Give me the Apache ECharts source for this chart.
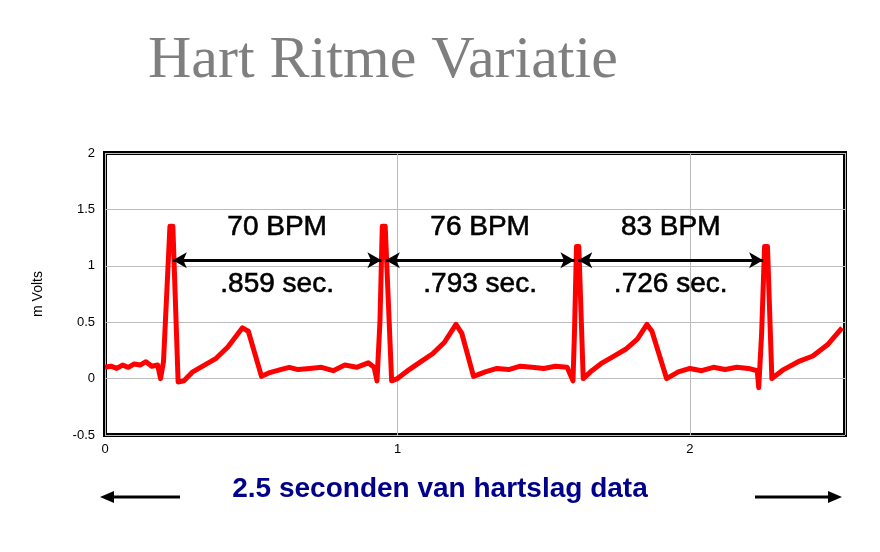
<!DOCTYPE html>
<html><head><meta charset="utf-8">
<script src="https://cdn.jsdelivr.net/npm/echarts@6/dist/echarts.min.js"></script>
<style>body{margin:0;background:#fff}#c{width:880px;height:552px}</style></head>
<body><div id="c"></div>
<script>
var times = [0,0.02,0.04,0.06,0.08,0.1,0.12,0.14,0.16,0.18,0.19,0.2,0.222,0.232,0.25,0.27,0.3,0.34,0.38,0.42,0.47,0.49,0.535,0.56,0.6,0.63,0.66,0.7,0.74,0.78,0.82,0.86,0.9,0.92,0.93,0.94,0.948,0.958,0.98,1.0,1.04,1.08,1.12,1.16,1.2,1.22,1.26,1.3,1.34,1.38,1.42,1.46,1.5,1.54,1.58,1.6,1.605,1.612,1.62,1.635,1.66,1.7,1.74,1.78,1.82,1.853,1.87,1.92,1.96,2.0,2.04,2.08,2.12,2.16,2.2,2.23,2.235,2.245,2.255,2.265,2.28,2.32,2.37,2.42,2.47,2.52];
var mvolts = [0.1,0.11,0.09,0.12,0.1,0.13,0.12,0.15,0.11,0.12,0.0,0.15,1.35,1.35,-0.03,-0.02,0.06,0.12,0.18,0.28,0.45,0.42,0.02,0.05,0.08,0.1,0.08,0.09,0.1,0.07,0.12,0.1,0.14,0.1,-0.02,0.5,1.35,1.35,-0.02,0.0,0.08,0.15,0.22,0.32,0.48,0.4,0.02,0.06,0.09,0.08,0.11,0.1,0.09,0.11,0.1,-0.02,0.4,1.17,1.17,0.0,0.06,0.14,0.2,0.26,0.35,0.48,0.42,0.0,0.06,0.09,0.07,0.1,0.08,0.1,0.09,0.07,-0.08,0.4,1.17,1.17,0.0,0.08,0.15,0.2,0.3,0.45];
var intervals = [[0.232,0.945],[0.96,1.605],[1.618,2.25]];
var bpmLabels = ['70 BPM','76 BPM','83 BPM'];
var secLabels = ['.859 sec.','.793 sec.','.726 sec.'];
var arrowY = 1.05;

var chart = echarts.init(document.getElementById('c'));
var ml = intervals.map(function(iv){return [{coord:[iv[0],arrowY]},{coord:[iv[1],arrowY]}];});
var labelPts = [];
intervals.forEach(function(iv,i){
  var mid=(iv[0]+iv[1])/2;
  labelPts.push({value:[mid,1.34],label:{formatter:bpmLabels[i]}});
  labelPts.push({value:[mid,0.84],label:{formatter:secLabels[i]}});
});
chart.setOption({
  animation:false,
  title:{text:'Hart Ritme Variatie',left:143,top:26,textStyle:{fontFamily:'Liberation Serif',fontSize:60,fontWeight:'normal',color:'#7f7f7f'}},
  grid:{left:105,right:35,top:153,bottom:117,show:true,borderColor:'#000',borderWidth:4},
  xAxis:{type:'value',min:0,max:2.53,interval:1,
    axisLabel:{color:'#000',fontSize:13,fontFamily:'Liberation Sans',formatter:function(v){return v>2.5?'':v;}},
    axisLine:{show:false},axisTick:{show:false},
    splitLine:{lineStyle:{color:'#bbb',width:1}}},
  yAxis:{type:'value',min:-0.5,max:2,interval:0.5,name:'m Volts',nameLocation:'middle',nameGap:60,
    nameTextStyle:{color:'#000',fontSize:14,fontFamily:'Liberation Sans'},
    axisLabel:{color:'#000',fontSize:13,fontFamily:'Liberation Sans',margin:10},
    axisLine:{show:false},axisTick:{show:false},
    splitLine:{lineStyle:{color:'#bbb',width:1}}},
  series:[
    {type:'line',data:times.map(function(t,i){return [t,mvolts[i]];}),symbol:'none',
     lineStyle:{color:'#ff0000',width:5,join:'round'},
     markLine:{silent:true,symbol:['arrow','arrow'],symbolSize:[12,14],label:{show:false},
       lineStyle:{color:'#000',width:3,type:'solid'},data:ml}},
    {type:'scatter',data:labelPts,symbolSize:0,silent:true,itemStyle:{opacity:1},
     label:{show:true,position:'inside',color:'#000',fontSize:28,fontFamily:'Liberation Sans',textBorderColor:'#000',textBorderWidth:0.6}}
  ],
  graphic:[
    {type:'text',left:'center',top:475,style:{text:'2.5 seconden van hartslag data',fill:'#00008b',font:'bold 28px "Liberation Sans"'}},
    {type:'line',shape:{x1:110,y1:497,x2:180,y2:497},style:{stroke:'#000',lineWidth:3}},
    {type:'polygon',shape:{points:[[100,497],[114,491],[114,503]]},style:{fill:'#000'}},
    {type:'line',shape:{x1:755,y1:497,x2:830,y2:497},style:{stroke:'#000',lineWidth:3}},
    {type:'polygon',shape:{points:[[842,497],[828,491],[828,503]]},style:{fill:'#000'}}
  ]
});
</script></body></html>
